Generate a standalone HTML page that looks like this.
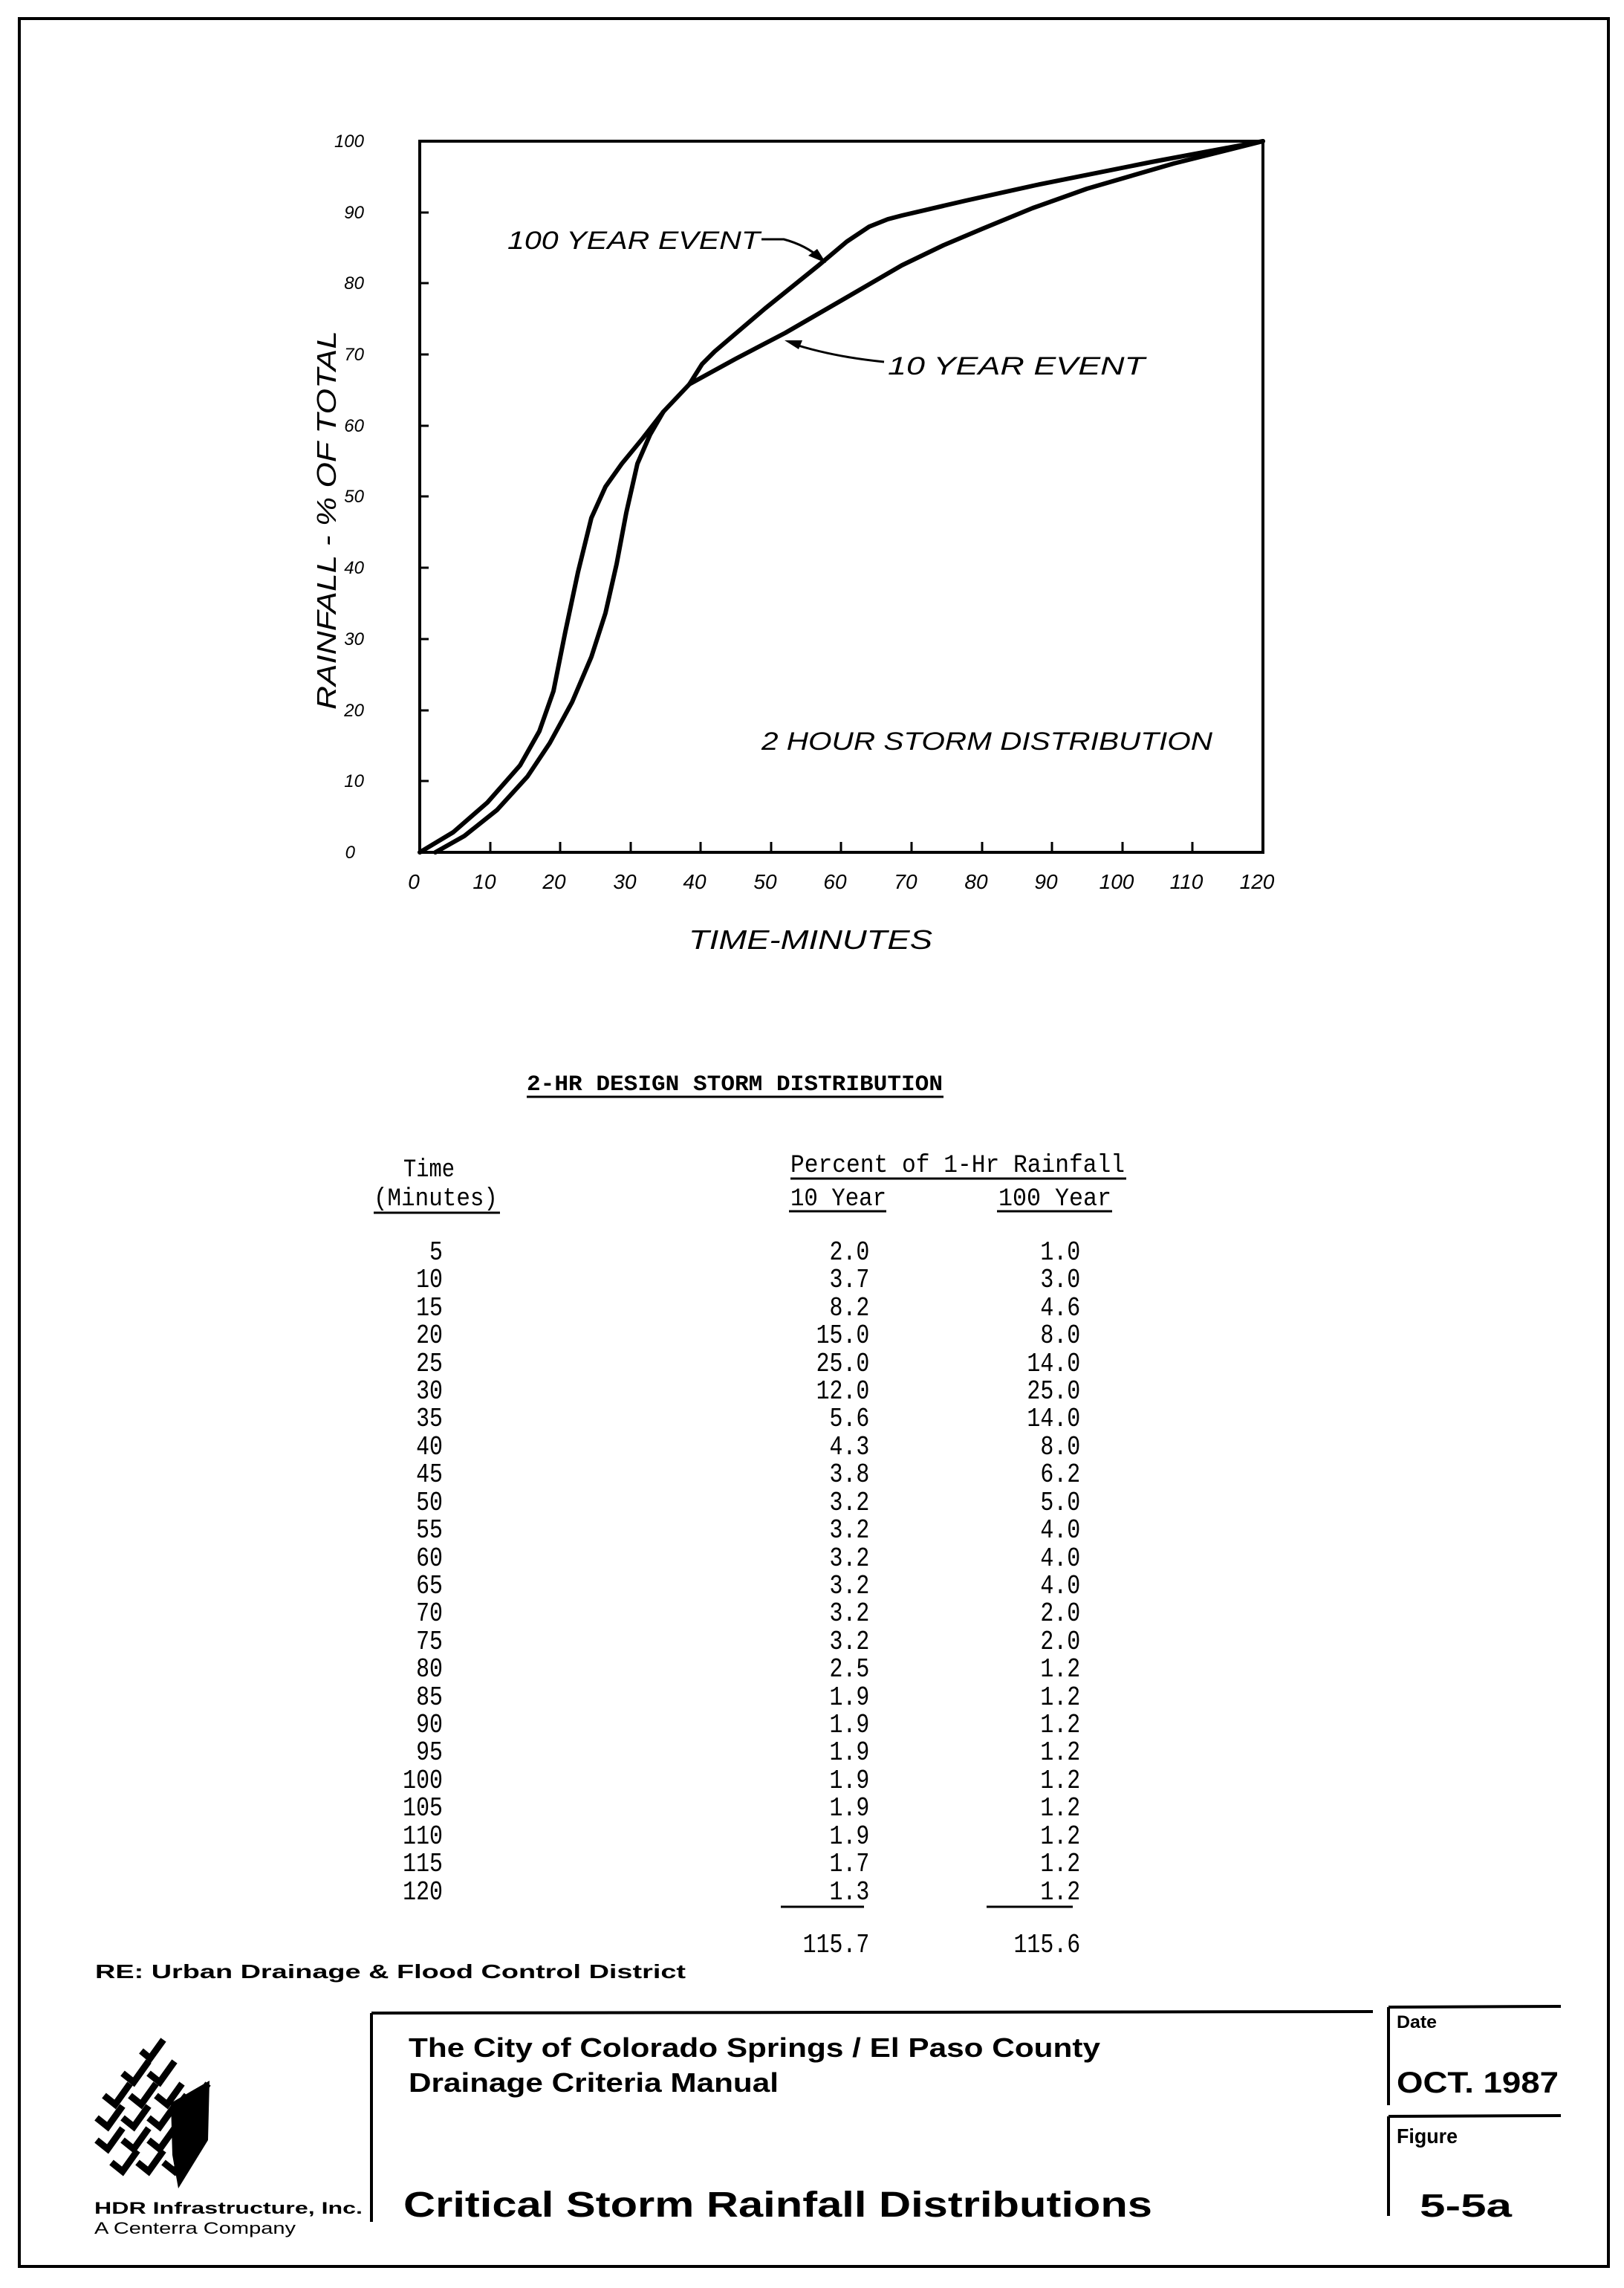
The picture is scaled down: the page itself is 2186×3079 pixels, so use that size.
<!DOCTYPE html>
<html><head><meta charset="utf-8"><style>
html,body{margin:0;padding:0;background:#fff}
svg{display:block}
.it{font-family:"Liberation Sans",sans-serif;font-style:italic;fill:#000}
.m{font-family:"Liberation Mono",monospace;fill:#000}
.b{font-family:"Liberation Sans",sans-serif;font-weight:bold;fill:#000}
</style></head><body>
<svg width="2186" height="3079" viewBox="0 0 2186 3079" xmlns="http://www.w3.org/2000/svg">
<rect x="0" y="0" width="2186" height="3079" fill="#fff"/>
<rect x="26" y="25" width="2139" height="3025" fill="none" stroke="#000" stroke-width="4"/>
<rect x="565" y="190" width="1135" height="957" fill="none" stroke="#000" stroke-width="4"/>
<g stroke="#000" stroke-width="3">
<line x1="660" y1="1147" x2="660" y2="1133"/><line x1="754" y1="1147" x2="754" y2="1133"/><line x1="849" y1="1147" x2="849" y2="1133"/><line x1="943" y1="1147" x2="943" y2="1133"/><line x1="1038" y1="1147" x2="1038" y2="1133"/><line x1="1132" y1="1147" x2="1132" y2="1133"/><line x1="1227" y1="1147" x2="1227" y2="1133"/><line x1="1322" y1="1147" x2="1322" y2="1133"/><line x1="1416" y1="1147" x2="1416" y2="1133"/><line x1="1511" y1="1147" x2="1511" y2="1133"/><line x1="1605" y1="1147" x2="1605" y2="1133"/>
<line x1="565" y1="1051" x2="577" y2="1051"/><line x1="565" y1="956" x2="577" y2="956"/><line x1="565" y1="860" x2="577" y2="860"/><line x1="565" y1="764" x2="577" y2="764"/><line x1="565" y1="668" x2="577" y2="668"/><line x1="565" y1="573" x2="577" y2="573"/><line x1="565" y1="477" x2="577" y2="477"/><line x1="565" y1="381" x2="577" y2="381"/><line x1="565" y1="286" x2="577" y2="286"/>
</g>
<g class="it" font-size="24" text-anchor="end">
<text x="490" y="198">100</text><text x="490" y="294">90</text><text x="490" y="389">80</text><text x="490" y="485">70</text><text x="490" y="581">60</text><text x="490" y="676">50</text><text x="490" y="772">40</text><text x="490" y="868">30</text><text x="490" y="964">20</text><text x="490" y="1059">10</text><text x="478" y="1155">0</text>
</g>
<g class="it" font-size="28" text-anchor="middle">
<text x="557" y="1196">0</text><text x="652" y="1196">10</text><text x="746" y="1196">20</text><text x="841" y="1196">30</text><text x="935" y="1196">40</text><text x="1030" y="1196">50</text><text x="1124" y="1196">60</text><text x="1219" y="1196">70</text><text x="1314" y="1196">80</text><text x="1408" y="1196">90</text><text x="1503" y="1196">100</text><text x="1597" y="1196">110</text><text x="1692" y="1196">120</text>
</g>
<text class="it" font-size="36" x="927" y="1277" textLength="328" lengthAdjust="spacingAndGlyphs">TIME-MINUTES</text>
<text class="it" font-size="36" transform="translate(452,955) rotate(-90)" textLength="510" lengthAdjust="spacingAndGlyphs">RAINFALL - % OF TOTAL</text>
<g fill="none" stroke="#000" stroke-width="6" stroke-linejoin="round" stroke-linecap="round">
<polyline points="565,1147 610,1120 656,1080 700,1030 726,984 745,930 761,850 778,770 796,697 815,655 837,624 865,590 893,554 928,517 990,483 1057,448 1140,400 1214,357 1270,330 1322,308 1390,280 1463,254 1580,220 1700,190"/>
<polyline points="586,1147 625,1125 669,1090 710,1045 740,1000 770,945 796,884 815,825 830,759 843,690 858,624 875,585 893,554"/>
<polyline points="928,517 945,490 962,473 1030,415 1102,357 1140,325 1170,305 1195,295 1214,290 1300,270 1395,249 1550,218 1700,190"/>
</g>
<g class="it" font-size="34">
<text x="683" y="335" textLength="340" lengthAdjust="spacingAndGlyphs">100 YEAR EVENT</text>
<text x="1195" y="504" textLength="346" lengthAdjust="spacingAndGlyphs">10 YEAR EVENT</text>
<text x="1025" y="1009" textLength="607" lengthAdjust="spacingAndGlyphs">2 HOUR STORM DISTRIBUTION</text>
</g>
<g fill="none" stroke="#000" stroke-width="3">
<path d="M1025,322 L1055,322 Q1085,330 1105,348"/>
<path d="M1190,487 Q1120,480 1065,462"/>
</g>
<polygon points="1112,354 1088,344 1100,335" fill="#000"/>
<polygon points="1056,458 1080,458 1075,470" fill="#000"/>
<g class="m" font-weight="bold" font-size="30">
<text x="709" y="1467" textLength="560" lengthAdjust="spacingAndGlyphs">2-HR DESIGN STORM DISTRIBUTION</text>
</g>
<line x1="709" y1="1476" x2="1270" y2="1476" stroke="#000" stroke-width="3"/>
<g class="m" font-size="34">
<text x="543" y="1583" textLength="69" lengthAdjust="spacingAndGlyphs">Time</text>
<text x="503" y="1622" textLength="167" lengthAdjust="spacingAndGlyphs">(Minutes)</text>
<text x="1064" y="1577" textLength="450" lengthAdjust="spacingAndGlyphs">Percent of 1-Hr Rainfall</text>
<text x="1064" y="1622" textLength="129" lengthAdjust="spacingAndGlyphs">10 Year</text>
<text x="1344" y="1622" textLength="152" lengthAdjust="spacingAndGlyphs">100 Year</text>
</g>
<g stroke="#000" stroke-width="3">
<line x1="503" y1="1632" x2="673" y2="1632"/>
<line x1="1064" y1="1586" x2="1516" y2="1586"/>
<line x1="1062" y1="1630" x2="1193" y2="1630"/>
<line x1="1342" y1="1630" x2="1497" y2="1630"/>
<line x1="1051" y1="2566" x2="1163" y2="2566"/>
<line x1="1328" y1="2566" x2="1444" y2="2566"/>
</g>
<g class="m" font-size="36" text-anchor="end" transform="scale(0.83,1)">
<text x="718" y="1695">5</text><text x="718" y="1732">10</text><text x="718" y="1770">15</text><text x="718" y="1807">20</text><text x="718" y="1845">25</text><text x="718" y="1882">30</text><text x="718" y="1919">35</text><text x="718" y="1957">40</text><text x="718" y="1994">45</text><text x="718" y="2032">50</text><text x="718" y="2069">55</text><text x="718" y="2107">60</text><text x="718" y="2144">65</text><text x="718" y="2181">70</text><text x="718" y="2219">75</text><text x="718" y="2256">80</text><text x="718" y="2294">85</text><text x="718" y="2331">90</text><text x="718" y="2368">95</text><text x="718" y="2406">100</text><text x="718" y="2443">105</text><text x="718" y="2481">110</text><text x="718" y="2518">115</text><text x="718" y="2556">120</text>
<text x="1410" y="1695">2.0</text><text x="1410" y="1732">3.7</text><text x="1410" y="1770">8.2</text><text x="1410" y="1807">15.0</text><text x="1410" y="1845">25.0</text><text x="1410" y="1882">12.0</text><text x="1410" y="1919">5.6</text><text x="1410" y="1957">4.3</text><text x="1410" y="1994">3.8</text><text x="1410" y="2032">3.2</text><text x="1410" y="2069">3.2</text><text x="1410" y="2107">3.2</text><text x="1410" y="2144">3.2</text><text x="1410" y="2181">3.2</text><text x="1410" y="2219">3.2</text><text x="1410" y="2256">2.5</text><text x="1410" y="2294">1.9</text><text x="1410" y="2331">1.9</text><text x="1410" y="2368">1.9</text><text x="1410" y="2406">1.9</text><text x="1410" y="2443">1.9</text><text x="1410" y="2481">1.9</text><text x="1410" y="2518">1.7</text><text x="1410" y="2556">1.3</text>
<text x="1752" y="1695">1.0</text><text x="1752" y="1732">3.0</text><text x="1752" y="1770">4.6</text><text x="1752" y="1807">8.0</text><text x="1752" y="1845">14.0</text><text x="1752" y="1882">25.0</text><text x="1752" y="1919">14.0</text><text x="1752" y="1957">8.0</text><text x="1752" y="1994">6.2</text><text x="1752" y="2032">5.0</text><text x="1752" y="2069">4.0</text><text x="1752" y="2107">4.0</text><text x="1752" y="2144">4.0</text><text x="1752" y="2181">2.0</text><text x="1752" y="2219">2.0</text><text x="1752" y="2256">1.2</text><text x="1752" y="2294">1.2</text><text x="1752" y="2331">1.2</text><text x="1752" y="2368">1.2</text><text x="1752" y="2406">1.2</text><text x="1752" y="2443">1.2</text><text x="1752" y="2481">1.2</text><text x="1752" y="2518">1.2</text><text x="1752" y="2556">1.2</text>
<text x="1410" y="2627">115.7</text><text x="1752" y="2627">115.6</text>
</g>
<text class="b" font-size="26" x="128" y="2662" textLength="795" lengthAdjust="spacingAndGlyphs">RE: Urban Drainage &amp; Flood Control District</text>
<g stroke="#000" stroke-width="4">
<line x1="500" y1="2709" x2="1848" y2="2707"/>
<line x1="500" y1="2709" x2="500" y2="2990"/>
<line x1="1869" y1="2701" x2="2101" y2="2700"/>
<line x1="1869" y1="2701" x2="1869" y2="2833"/>
<line x1="1869" y1="2848" x2="2101" y2="2847"/>
<line x1="1869" y1="2848" x2="1869" y2="2982"/>
</g>
<g class="b">
<text x="550" y="2768" font-size="36" textLength="931" lengthAdjust="spacingAndGlyphs">The City of Colorado Springs / El Paso County</text>
<text x="550" y="2815" font-size="36" textLength="498" lengthAdjust="spacingAndGlyphs">Drainage Criteria Manual</text>
<text x="543" y="2983" font-size="48" textLength="1008" lengthAdjust="spacingAndGlyphs">Critical Storm Rainfall Distributions</text>
<text x="1880" y="2729" font-size="24" textLength="54" lengthAdjust="spacingAndGlyphs">Date</text>
<text x="1880" y="2816" font-size="40" textLength="218" lengthAdjust="spacingAndGlyphs">OCT. 1987</text>
<text x="1880" y="2884" font-size="28" textLength="82" lengthAdjust="spacingAndGlyphs">Figure</text>
<text x="1911" y="2983" font-size="44" textLength="124" lengthAdjust="spacingAndGlyphs">5-5a</text>
<text x="127" y="2979" font-size="22" textLength="361" lengthAdjust="spacingAndGlyphs">HDR Infrastructure, Inc.</text>
<text x="127" y="3006" font-size="22" font-weight="normal" textLength="271" lengthAdjust="spacingAndGlyphs">A Centerra Company</text>
</g>
<g fill="none" stroke="#000" stroke-width="9" stroke-linejoin="miter">
<path d="M190,2760 l12,10 l18,-25"/>
<path d="M165,2790 l15,12 l20,-28 M200,2790 l15,12 l20,-28"/>
<path d="M140,2820 l15,12 l20,-28 M175,2820 l15,12 l20,-28 M210,2820 l15,12 l20,-28 M245,2820 l15,12 l20,-28"/>
<path d="M130,2850 l15,12 l20,-28 M165,2850 l15,12 l20,-28 M200,2850 l15,12 l20,-28 M235,2850 l15,12 l20,-28"/>
<path d="M130,2880 l15,12 l20,-28 M165,2880 l15,12 l20,-28 M200,2880 l15,12 l20,-28 M235,2880 l15,12 l20,-28"/>
<path d="M150,2910 l15,12 l20,-28 M185,2910 l15,12 l20,-28 M220,2910 l15,12 l20,-28"/>
</g>
<polygon points="230,2830 282,2800 280,2880 240,2945 232,2900" fill="#000"/>
</svg>
</body></html>
